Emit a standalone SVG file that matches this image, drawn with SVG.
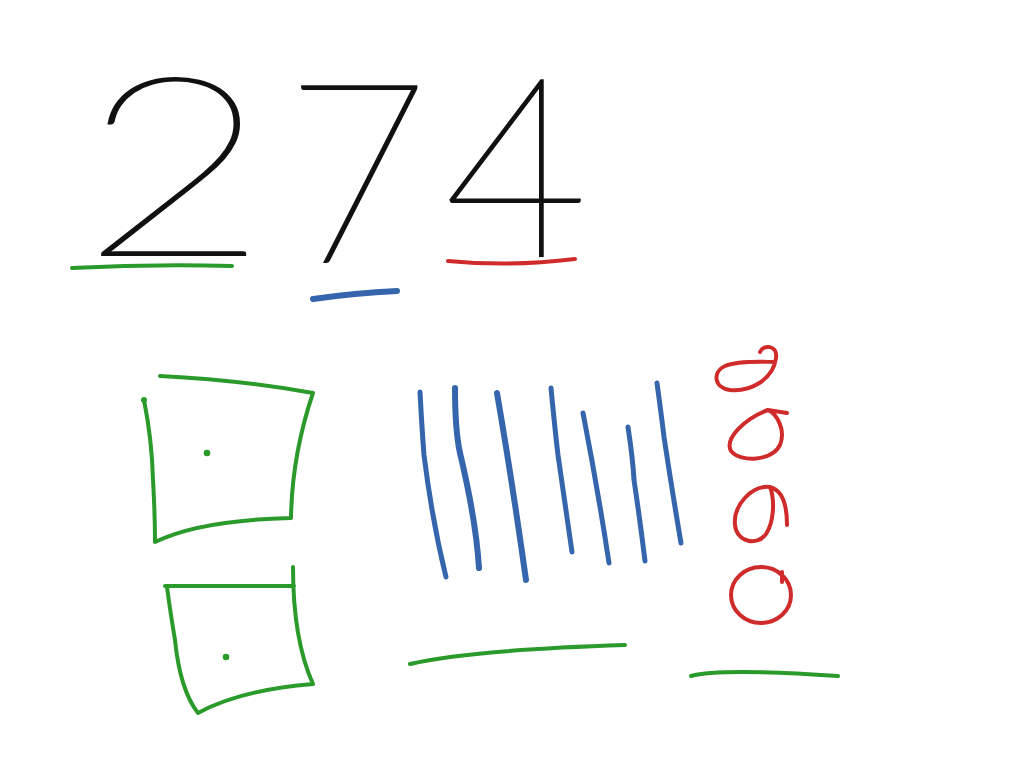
<svg xmlns="http://www.w3.org/2000/svg" width="1024" height="768" viewBox="0 0 1024 768">
<style>
.ink{fill:none;stroke-linecap:round;stroke-linejoin:round}
.g{stroke:#2a9a2a;stroke-width:4}
.b{stroke:#3566ad;stroke-width:5}
.r{stroke:#d02b2b;stroke-width:4}
.digit{font-family:Lato,Roboto,"Liberation Sans",sans-serif;font-weight:100;font-size:250px;fill:#111;stroke:#111;stroke-width:2;text-anchor:middle}
.dot{fill:#2a9a2a}
</style>
<rect width="1024" height="768" fill="#fff"/>
<g id="number">
<text class="digit" x="175" y="255" transform="translate(175,0) scale(1.3,1) translate(-175,0)">2</text>
<text class="digit" x="357" y="262">7</text>
<text class="digit" x="516" y="256">4</text>
</g>
<g id="underlines" class="ink">
<path class="g" d="M72,268 Q150,264 232,266"/>
<path class="b" d="M313,299 Q355,293 397,291" style="stroke-width:6"/>
<path class="r" d="M448,261 Q510,267 575,259"/>
<path class="g" d="M410,664 Q470,650 625,645"/>
<path class="g" d="M691,676 Q720,668 838,676"/>
</g>
<g id="hundreds" class="ink">
<path class="g" d="M144,400 Q152,440 153,480 Q155,515 155,542 Q200,520 291,518 Q292,455 313,393 Q240,380 160,376"/>
<circle class="dot" cx="144" cy="400" r="3"/>
<circle class="dot" cx="207" cy="453" r="3.3"/>
<path class="g" d="M165,586 L294,586 M293,567 Q293,640 313,684 Q240,690 198,713 Q180,690 175,640 Q170,610 167,587"/>
<circle class="dot" cx="226" cy="657" r="3.3"/>
</g>
<g id="tens" class="ink">
<path class="b" d="M420,392 Q422,430 424,455 Q432,520 446,577"/>
<path class="b" d="M455,388 Q455,430 460,453 Q476,520 479,568" style="stroke-width:6"/>
<path class="b" d="M497,393 Q512,480 526,580" style="stroke-width:6"/>
<path class="b" d="M551,388 Q555,430 558,455 Q566,510 572,552"/>
<path class="b" d="M583,413 Q598,490 609,563"/>
<path class="b" d="M628,427 Q633,460 634,480 Q640,520 645,561"/>
<path class="b" d="M657,383 Q662,420 664,437 Q672,490 681,543"/>
</g>
<g id="ones" class="ink">
<path class="r" d="M760,352 C763,344 778,345 776,358 C773,380 750,392 730,390 C714,388 712,372 725,366 C740,360 765,362 775,362"/>
<path class="r" d="M787,413 L768,410 C746,418 724,438 731,451 C741,463 772,461 780,445 C786,430 777,414 768,410"/>
<path class="r" d="M787,525 C787,505 782,490 770,487 C752,485 733,505 735,525 C737,543 758,546 766,534 C774,522 775,500 770,487"/>
<ellipse class="r" cx="761" cy="595" rx="30" ry="28"/>
<path class="r" d="M782,572 L782,582"/>
</g>
</svg>
